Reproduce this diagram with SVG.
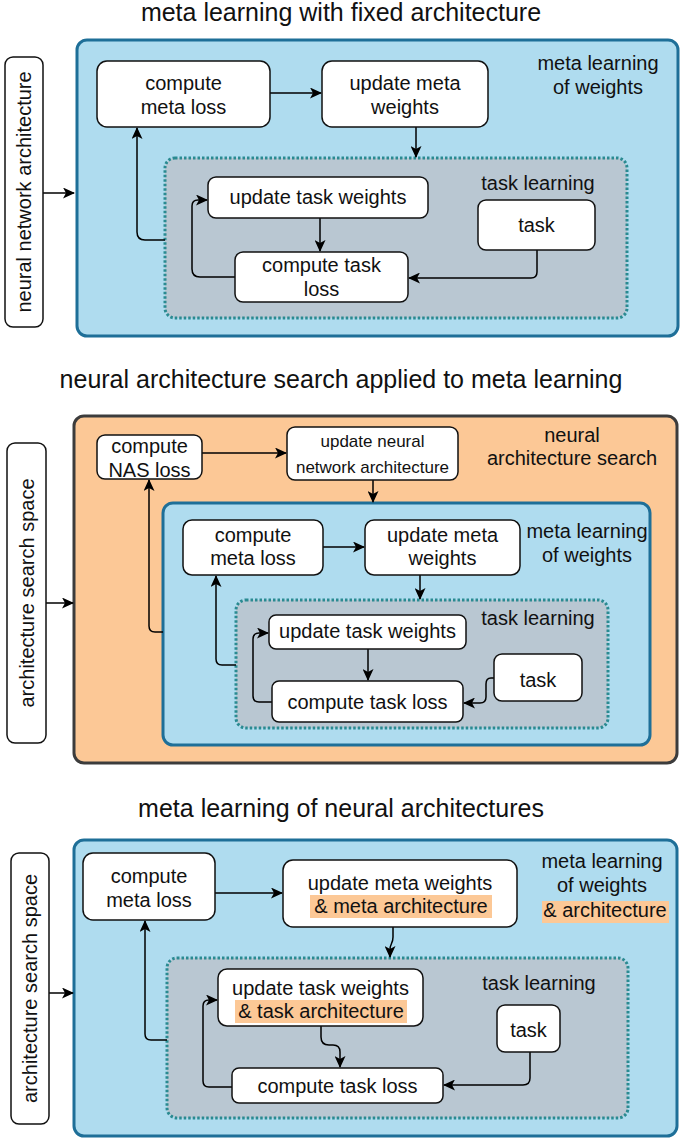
<svg xmlns="http://www.w3.org/2000/svg" width="683" height="1141" viewBox="0 0 683 1141">
<defs>
<marker id="ah" markerWidth="12" markerHeight="11" refX="11" refY="5.5" orient="auto" markerUnits="userSpaceOnUse">
<path d="M0,0 L12,5.5 L0,11 L3,5.5 z" fill="#000"/>
</marker>
<style>
text{font-family:"Liberation Sans",Arial,Helvetica,sans-serif;fill:#111;}
.t{font-size:25px;text-anchor:middle;}
.n{font-size:20px;text-anchor:middle;}
.s{font-size:17px;text-anchor:middle;}
.box{fill:#fff;stroke:#111;stroke-width:1.5;}
.blue{fill:#afdcef;stroke:#1e6f98;stroke-width:3;}
.orange{fill:#fcc896;stroke:#3c3c3c;stroke-width:3;}
.task{fill:#b9c7d2;stroke:#2a8a91;stroke-width:3;stroke-dasharray:2.5 2;}
.hl{fill:#fcc896;}
.c{fill:none;stroke:#000;stroke-width:1.5;marker-end:url(#ah);}
</style>
</defs>
<rect width="683" height="1141" fill="#fff"/>

<!-- Section 1 -->
<text class="t" x="341" y="21">meta learning with fixed architecture</text>
<g id="s1-container">
<rect class="blue" x="77" y="40" width="601" height="296" rx="10"/>
<text class="n" x="598" y="70">meta learning</text>
<text class="n" x="598" y="94">of weights</text>
</g>
<g id="s1-tasklearning">
<rect class="task" x="165" y="158" width="462" height="160" rx="10"/>
<text class="n" x="538" y="190">task learning</text>
</g>
<g id="s1-connectors">
<path class="c" d="M43,193 H74"/>
<path class="c" d="M270,93 H321"/>
<path class="c" d="M416,127 V157"/>
<path class="c" d="M165,240 H145 Q137,240 137,232 V128"/>
<path class="c" d="M320,218 V251"/>
<path class="c" d="M537,250 V272 Q537,278 531,278 H409"/>
<path class="c" d="M235,277 H200 Q192,277 192,269 V206 Q192,200 198,200 H207"/>
</g>
<g id="s1-input">
<rect class="box" x="5" y="57" width="38" height="270" rx="8"/>
<text class="n" transform="translate(24,192) rotate(-90)" x="0" y="7">neural network architecture</text>
</g>
<g id="s1-compute-meta-loss">
<rect class="box" x="97" y="61" width="173" height="66" rx="10"/>
<text class="n" x="183.5" y="90">compute</text>
<text class="n" x="183.5" y="114">meta loss</text>
</g>
<g id="s1-update-meta-weights">
<rect class="box" x="322" y="61" width="166" height="66" rx="10"/>
<text class="n" x="405" y="90">update meta</text>
<text class="n" x="405" y="114">weights</text>
</g>
<g id="s1-update-task-weights">
<rect class="box" x="208" y="177" width="220" height="41" rx="8"/>
<text class="n" x="318" y="204">update task weights</text>
</g>
<g id="s1-compute-task-loss">
<rect class="box" x="235" y="252" width="173" height="50" rx="8"/>
<text class="n" x="321.5" y="272">compute task</text>
<text class="n" x="321.5" y="296">loss</text>
</g>
<g id="s1-task">
<rect class="box" x="478" y="200" width="117" height="50" rx="8"/>
<text class="n" x="536.5" y="232">task</text>
</g>

<!-- Section 2 -->
<text class="t" x="341" y="388">neural architecture search applied to meta learning</text>
<g id="s2-nas">
<rect class="orange" x="74" y="416" width="603" height="347" rx="10"/>
<text class="n" x="572" y="442">neural</text>
<text class="n" x="572" y="465">architecture search</text>
</g>
<g id="s2-container">
<rect class="blue" x="163" y="503" width="487" height="242" rx="10"/>
<text class="n" x="587" y="538">meta learning</text>
<text class="n" x="587" y="562">of weights</text>
</g>
<g id="s2-tasklearning">
<rect class="task" x="236" y="600" width="372" height="128" rx="10"/>
<text class="n" x="538" y="625">task learning</text>
</g>
<g id="s2-connectors">
<path class="c" d="M46,603 H73"/>
<path class="c" d="M202,453 H286"/>
<path class="c" d="M373,480 V502"/>
<path class="c" d="M163,632 H155 Q149,632 149,626 V480"/>
<path class="c" d="M323,547 H364"/>
<path class="c" d="M420,575 V599"/>
<path class="c" d="M236,665 H222 Q216,665 216,659 V576"/>
<path class="c" d="M368,649 V680"/>
<path class="c" d="M494,678 H491 Q486,678 486,684 V697 Q486,703 480,703 H464"/>
<path class="c" d="M272,702 H259 Q253,702 253,696 V639 Q253,633 259,633 H268"/>
</g>
<g id="s2-input">
<rect class="box" x="7" y="443" width="39" height="300" rx="8"/>
<text class="n" transform="translate(26.5,593) rotate(-90)" x="0" y="7">architecture search space</text>
</g>
<g id="s2-compute-nas-loss">
<rect class="box" x="97" y="435" width="105" height="44" rx="8"/>
<text class="n" x="149.5" y="453">compute</text>
<text class="n" x="149.5" y="477">NAS loss</text>
</g>
<g id="s2-update-architecture">
<rect class="box" x="287" y="427" width="171" height="53" rx="8"/>
<text class="s" x="372.5" y="447">update neural</text>
<text class="s" x="372.5" y="473">network architecture</text>
</g>
<g id="s2-compute-meta-loss">
<rect class="box" x="183" y="520" width="140" height="55" rx="9"/>
<text class="n" x="253" y="542">compute</text>
<text class="n" x="253" y="565">meta loss</text>
</g>
<g id="s2-update-meta-weights">
<rect class="box" x="365" y="520" width="155" height="55" rx="9"/>
<text class="n" x="442.5" y="542">update meta</text>
<text class="n" x="442.5" y="565">weights</text>
</g>
<g id="s2-update-task-weights">
<rect class="box" x="269" y="615" width="197" height="34" rx="7"/>
<text class="n" x="367.5" y="638">update task weights</text>
</g>
<g id="s2-compute-task-loss">
<rect class="box" x="272" y="681" width="191" height="41" rx="7"/>
<text class="n" x="367.5" y="709">compute task loss</text>
</g>
<g id="s2-task">
<rect class="box" x="494" y="654" width="88" height="47" rx="8"/>
<text class="n" x="538" y="687">task</text>
</g>

<!-- Section 3 -->
<text class="t" x="341" y="817">meta learning of neural architectures</text>
<g id="s3-container">
<rect class="blue" x="74" y="840" width="603" height="296" rx="10"/>
<rect class="hl" x="542" y="901" width="127" height="22"/>
<text class="n" x="602" y="868">meta learning</text>
<text class="n" x="602" y="892">of weights</text>
<text class="n" x="605" y="917">&amp; architecture</text>
</g>
<g id="s3-tasklearning">
<rect class="task" x="167" y="958" width="461" height="160" rx="10"/>
<text class="n" x="539" y="990">task learning</text>
</g>
<g id="s3-connectors">
<path class="c" d="M49,993 H73"/>
<path class="c" d="M215,893 H282"/>
<path class="c" d="M393,927 V937 C393,944 390,943 390,950 V957"/>
<path class="c" d="M167,1040 H151 Q145,1040 145,1034 V921"/>
<path class="c" d="M321,1026 V1037 Q321,1045 329,1045 H333 Q340,1045 340,1052 V1067"/>
<path class="c" d="M530,1052 V1078 Q530,1085 523,1085 H444"/>
<path class="c" d="M232,1087 H209 Q203,1087 203,1081 V1006 Q203,1000 209,1000 H217"/>
</g>
<g id="s3-input">
<rect class="box" x="11" y="853" width="38" height="271" rx="8"/>
<text class="n" transform="translate(30,988.5) rotate(-90)" x="0" y="7">architecture search space</text>
</g>
<g id="s3-compute-meta-loss">
<rect class="box" x="83" y="853" width="132" height="67" rx="10"/>
<text class="n" x="149" y="883">compute</text>
<text class="n" x="149" y="907">meta loss</text>
</g>
<g id="s3-update-meta">
<rect class="box" x="283" y="860" width="234" height="67" rx="10"/>
<rect class="hl" x="310" y="895" width="182" height="23"/>
<text class="n" x="400" y="890">update meta weights</text>
<text class="n" x="401" y="913">&amp; meta architecture</text>
</g>
<g id="s3-update-task">
<rect class="box" x="218" y="969" width="205" height="57" rx="9"/>
<rect class="hl" x="235" y="1000" width="172" height="23"/>
<text class="n" x="320.5" y="995">update task weights</text>
<text class="n" x="321" y="1018">&amp; task architecture</text>
</g>
<g id="s3-compute-task-loss">
<rect class="box" x="232" y="1068" width="211" height="35" rx="7"/>
<text class="n" x="337.5" y="1093">compute task loss</text>
</g>
<g id="s3-task">
<rect class="box" x="497" y="1005" width="63" height="47" rx="8"/>
<text class="n" x="528.5" y="1037">task</text>
</g>
</svg>
